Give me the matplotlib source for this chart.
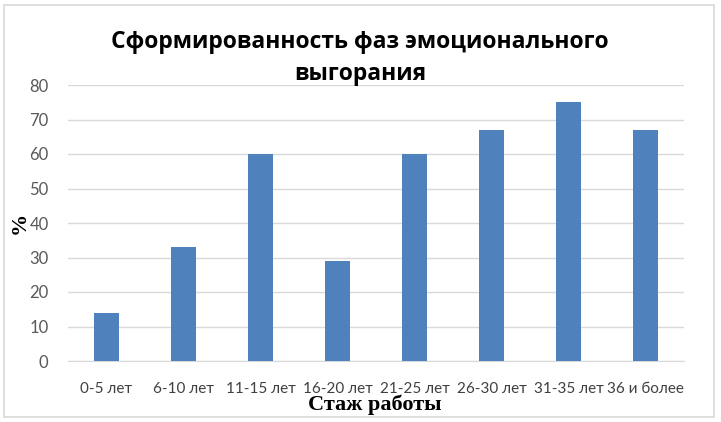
import matplotlib.pyplot as plt
from matplotlib.patches import Rectangle

categories = ["0-5 лет", "6-10 лет", "11-15 лет", "16-20 лет", "21-25 лет",
              "26-30 лет", "31-35 лет", "36 и более"]
values = [14, 33, 60, 29, 60, 67, 75, 67]
y_ticks = [0, 10, 20, 30, 40, 50, 60, 70, 80]

fig = plt.figure(figsize=(7.21, 4.22), dpi=100)
ax = fig.add_axes([68 / 721, 1 - 361 / 422, 616 / 721, 276 / 422])

x = list(range(len(categories)))
ax.bar(x, values, width=0.33, color="#4f81bd", zorder=3)
ax.set_xlim(-0.5, len(categories) - 0.5)
ax.set_ylim(0, 80)
ax.set_yticks(y_ticks)
ax.set_xticks(x)
ax.set_xticklabels(categories, family="Lato", fontsize=11, color="#404040")
ax.set_yticklabels([str(t) for t in y_ticks], family="Lato", fontsize=12, color="#595959")
ax.tick_params(axis="y", length=0, pad=14)
ax.tick_params(axis="x", length=0, pad=15)
ax.grid(axis="y", color="#d9d9d9", linewidth=1, zorder=0)
for s in ["top", "right", "left"]:
    ax.spines[s].set_visible(False)
ax.spines["bottom"].set_color("#d9d9d9")

# title, axis labels
fig.text(360 / 721, 1 - 58 / 422, "Сформированность фаз эмоционального\nвыгорания",
         ha="center", va="center", family="Open Sans", fontweight="bold",
         fontsize=16.5, linespacing=1.5)
fig.text(20 / 721, 1 - 223 / 422, "%", rotation=90, ha="center", va="center",
         family="Liberation Serif", fontweight="bold", fontsize=16)
fig.text(375 / 721, 1 - 405 / 422, "Стаж работы", ha="center", va="center",
         family="Liberation Serif", fontweight="bold", fontsize=16)

# chart border
fig.patches.append(Rectangle((4 / 721, 1 - 417 / 422), 710 / 721, 412 / 422,
                             transform=fig.transFigure, fill=False,
                             edgecolor="#d9d9d9", linewidth=1.2))

fig.savefig("out.png", dpi=100)
